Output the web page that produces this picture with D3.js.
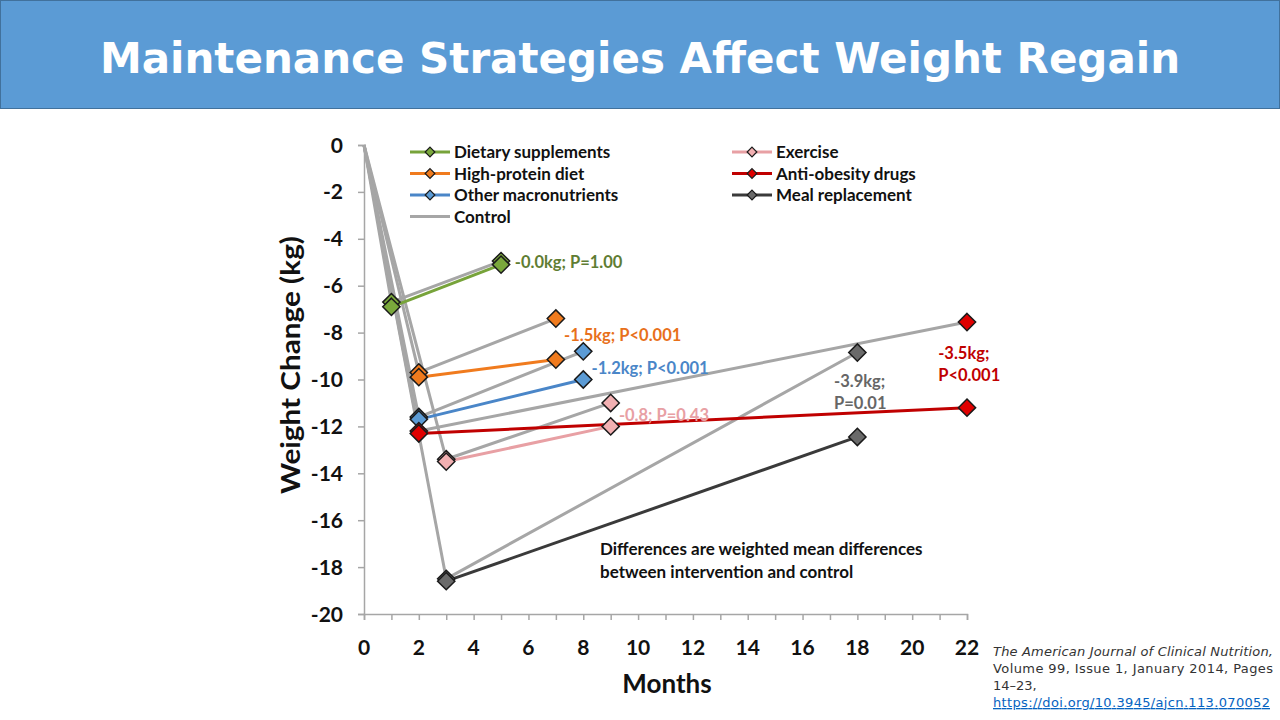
<!DOCTYPE html>
<html>
<head>
<meta charset="utf-8">
<script src="https://cdn.jsdelivr.net/npm/d3@7"></script>
<style>
  body { margin: 0; background: #fff; }
  svg { display: block; }
</style>
</head>
<body>
<div id="chart"></div>
<script>
// Groups (intervention type), month of start / end and colours
var groups = ["Dietary supplements", "High-protein diet", "Other macronutrients", "Exercise", "Anti-obesity drugs", "Meal replacement"];
var startMonth = [1, 2, 2, 3, 2, 3];
var endMonth = [5, 7, 8, 9, 22, 18];
// weight change at start of maintenance
var startValue = [-6.9, -9.9, -11.7, -13.5, -12.3, -18.6];
var controlStart = [-6.7, -9.7, -11.6, -13.4, -12.2, -18.5];
// weight change at end of maintenance
var interventionEnd = [-5.1, -9.15, -10.0, -12.0, -11.2, -12.45];
var controlEnd = [-4.95, -7.4, -8.8, -11.0, -7.55, -8.85];

var lineColors = ["#77a33a", "#f07b1e", "#4a86c8", "#e8a0a4", "#c00000", "#3a3a3a"];
var fillColors = ["#7aa83c", "#f07b1e", "#5b9bd5", "#f2b0b2", "#e00000", "#6a6a6a"];

var xTicks = d3.range(0, 23, 2);
var yTicks = d3.range(0, -21, -2);

var annotations = [
  {lines: ["-0.0kg; P=1.00"], color: "#5f7d33", m: 5.5, v: -5.0},
  {lines: ["-1.5kg; P<0.001"], color: "#e8701a", m: 7.3, v: -8.1},
  {lines: ["-1.2kg; P<0.001"], color: "#4a86c8", m: 8.3, v: -9.5},
  {lines: ["-0.8; P=0.43"], color: "#e8a0a4", m: 9.3, v: -11.5},
  {lines: ["-3.9kg;", "P=0.01"], color: "#666666", m: 17.15, v: -10.05},
  {lines: ["-3.5kg;", "P<0.001"], color: "#c00000", m: 20.95, v: -8.85}
];

var W = 1280, H = 720;
var svg = d3.select("#chart").append("svg")
  .attr("width", W)
  .attr("height", H);

// title bar
svg.append("rect")
  .attr("x", 0.5).attr("y", 0.5)
  .attr("width", W - 1).attr("height", 108)
  .attr("fill", "#5b9bd5")
  .attr("stroke", "#41719c");

svg.append("text")
  .attr("x", 640).attr("y", 73)
  .attr("text-anchor", "middle")
  .style("font-family", "DejaVu Sans")
  .style("font-weight", "bold")
  .style("font-size", "42px")
  .attr("fill", "#fff")
  .text("Maintenance Strategies Affect Weight Regain");

var x = d3.scaleLinear().domain([0, 22]).range([364, 967]);
var y = d3.scaleLinear().domain([0, -20]).range([145, 614]);

var labelFont = "Lato";

// axes
var xAxis = svg.append("g")
  .attr("transform", "translate(0," + y(-20) + ")")
  .call(d3.axisBottom(x).tickValues(d3.range(0, 23, 1)).tickSize(6).tickFormat(""));
var yAxis = svg.append("g")
  .attr("transform", "translate(" + x(0) + ",0)")
  .call(d3.axisLeft(y).tickValues(yTicks).tickSize(6).tickFormat(""));
[xAxis, yAxis].forEach(function(a) {
  a.select(".domain").attr("stroke", "#a6a6a6").attr("stroke-width", 1.5);
  a.selectAll(".tick line").attr("stroke", "#a6a6a6").attr("stroke-width", 1.5);
});

svg.selectAll(".xlab")
  .data(xTicks)
  .enter().append("text")
  .attr("class", "xlab")
  .attr("x", function(d) { return x(d); })
  .attr("y", 655)
  .attr("text-anchor", "middle")
  .style("font-family", labelFont).style("font-weight", "bold").style("font-size", "21px")
  .attr("fill", "#111")
  .text(function(d) { return d; });

svg.selectAll(".ylab")
  .data(yTicks)
  .enter().append("text")
  .attr("class", "ylab")
  .attr("x", 343)
  .attr("y", function(d) { return y(d) + 7.5; })
  .attr("text-anchor", "end")
  .style("font-family", labelFont).style("font-weight", "bold").style("font-size", "21px")
  .attr("fill", "#111")
  .text(function(d) { return d; });

svg.append("text")
  .attr("x", 667).attr("y", 693)
  .attr("text-anchor", "middle")
  .style("font-family", labelFont).style("font-weight", "bold").style("font-size", "26px")
  .attr("fill", "#111")
  .text("Months");

svg.append("text")
  .attr("transform", "translate(300,365) rotate(-90)")
  .attr("text-anchor", "middle")
  .attr("textLength", 258).attr("lengthAdjust", "spacingAndGlyphs")
  .style("font-family", labelFont).style("font-weight", "bold").style("font-size", "26px")
  .attr("fill", "#111")
  .text("Weight Change (kg)");

// data rows
var rows = groups.map(function(g, i) {
  return {name: g, s: startMonth[i], e: endMonth[i], sv: startValue[i], cs: controlStart[i],
          ie: interventionEnd[i], ce: controlEnd[i], line: lineColors[i], fill: fillColors[i]};
});

var plot = svg.append("g");

// control lines from baseline
rows.forEach(function(r) {
  plot.append("path")
    .attr("d", d3.line()([[x(0), y(0)], [x(r.s), y(r.cs)], [x(r.e), y(r.ce)]]))
    .attr("fill", "none")
    .attr("stroke", "#a6a6a6")
    .attr("stroke-width", 3)
    .attr("stroke-linejoin", "round");
});

// intervention lines
rows.forEach(function(r) {
  plot.append("line")
    .attr("x1", x(r.s)).attr("y1", y(r.sv))
    .attr("x2", x(r.e)).attr("y2", y(r.ie))
    .attr("stroke", r.line)
    .attr("stroke-width", 3);
});

var diamond = d3.symbol().type(d3.symbolDiamond2).size(190);

function addDiamond(g, cx, cy, fill) {
  g.append("path")
    .attr("d", diamond())
    .attr("transform", "translate(" + cx + "," + cy + ")")
    .attr("fill", fill)
    .attr("stroke", "#1a1a1a")
    .attr("stroke-width", 1.5);
}

rows.forEach(function(r) {
  addDiamond(plot, x(r.e), y(r.ce), r.fill);
  addDiamond(plot, x(r.s), y(r.cs), r.fill);
  addDiamond(plot, x(r.e), y(r.ie), r.fill);
  addDiamond(plot, x(r.s), y(r.sv), r.fill);
});

// annotations
annotations.forEach(function(a) {
  var t = svg.append("text")
    .attr("x", x(a.m)).attr("y", y(a.v) + 6)
    .style("font-family", labelFont).style("font-weight", "bold").style("font-size", "16.5px")
    .attr("fill", a.color);
  a.lines.forEach(function(l, k) {
    t.append("tspan").attr("x", x(a.m)).attr("dy", k === 0 ? 0 : 22).text(l);
  });
});

var note = svg.append("text")
  .attr("x", 600).attr("y", 555)
  .style("font-family", labelFont).style("font-weight", "bold").style("font-size", "17px")
  .attr("fill", "#111");
note.append("tspan").attr("x", 600).attr("dy", 0).text("Differences are weighted mean differences");
note.append("tspan").attr("x", 600).attr("dy", 23).text("between intervention and control");

// legend
var legendLeft = [
  {name: groups[0], line: lineColors[0], fill: fillColors[0]},
  {name: groups[1], line: lineColors[1], fill: fillColors[1]},
  {name: groups[2], line: lineColors[2], fill: fillColors[2]},
  {name: "Control", line: "#a6a6a6", fill: null}
];
var legendRight = [
  {name: groups[3], line: lineColors[3], fill: fillColors[3]},
  {name: groups[4], line: lineColors[4], fill: fillColors[4]},
  {name: groups[5], line: lineColors[5], fill: fillColors[5]}
];
var smallDiamond = d3.symbol().type(d3.symbolDiamond2).size(60);

function drawLegend(items, x0) {
  items.forEach(function(it, i) {
    var ly = 152 + i * 21.5;
    svg.append("line")
      .attr("x1", x0).attr("x2", x0 + 40)
      .attr("y1", ly).attr("y2", ly)
      .attr("stroke", it.line).attr("stroke-width", 3);
    if (it.fill) {
      svg.append("path")
        .attr("d", smallDiamond())
        .attr("transform", "translate(" + (x0 + 20) + "," + ly + ")")
        .attr("fill", it.fill)
        .attr("stroke", "#1a1a1a")
        .attr("stroke-width", 1.2);
    }
    svg.append("text")
      .attr("x", x0 + 44).attr("y", ly + 6)
      .style("font-family", labelFont).style("font-weight", "bold").style("font-size", "17px")
      .attr("fill", "#111")
      .text(it.name);
  });
}
drawLegend(legendLeft, 410);
drawLegend(legendRight, 732);

// citation
var cite = svg.append("g").style("font-family", "DejaVu Sans").style("font-size", "13px").attr("fill", "#333");
cite.append("text").attr("x", 993).attr("y", 656)
  .attr("textLength", 280).attr("lengthAdjust", "spacing")
  .style("font-style", "italic")
  .text("The American Journal of Clinical Nutrition,");
cite.append("text").attr("x", 993).attr("y", 673)
  .attr("textLength", 280).attr("lengthAdjust", "spacing")
  .text("Volume 99, Issue 1, January 2014, Pages");
cite.append("text").attr("x", 993).attr("y", 690)
  .text("14\u201323,");
cite.append("text").attr("x", 993).attr("y", 707)
  .attr("textLength", 277).attr("lengthAdjust", "spacing")
  .attr("fill", "#0563c1")
  .style("text-decoration", "underline")
  .text("https://doi.org/10.3945/ajcn.113.070052");
</script>
</body>
</html>
